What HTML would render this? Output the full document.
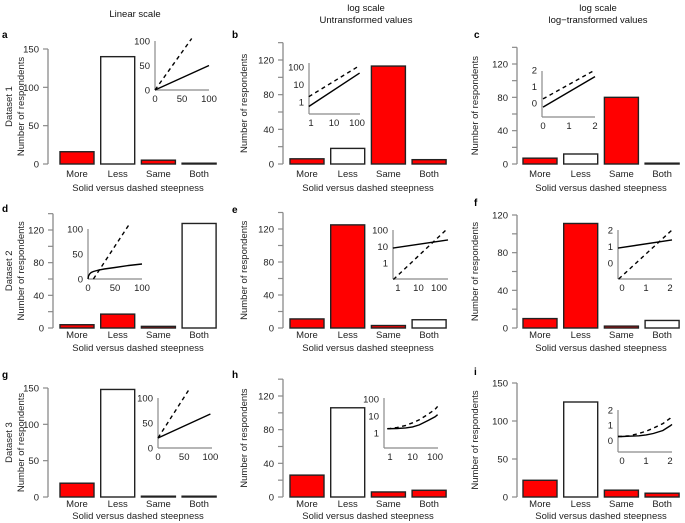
<!DOCTYPE html>
<html><head><meta charset="utf-8">
<style>
html,body{margin:0;padding:0;background:#fff;}
svg{display:block;font-family:"Liberation Sans",Arial,sans-serif;}
</style></head>
<body>
<svg id="fig" width="685" height="523" viewBox="0 0 685 523" xmlns="http://www.w3.org/2000/svg">
<g font-size="9.5" fill="#111" text-anchor="middle">
<text x="135" y="17">Linear scale</text>
<text x="366" y="11">log scale</text>
<text x="366" y="23">Untransformed values</text>
<text x="598" y="11">log scale</text>
<text x="598" y="23">log−transformed values</text>
</g>
</svg>
<script>
// ---- data ----
const categories = ["More","Less","Same","Both"];
const panelLetters = ["a","b","c","d","e","f","g","h","i"];
const valuesA = [16,140,5,0.5];
const valuesB = [6,18,113,5];
const valuesC = [7,12,80,1];
const valuesD = [4,17,2,128];
const valuesE = [11,125,3,10];
const valuesF = [10,111,2,8];
const valuesG = [19,148,1,1];
const valuesH = [26,106,6,8];
const valuesI = [22,125,9,5];
const fillsA = ["r","w","r","w"];
const fillsB = ["r","w","r","r"];
const fillsC = ["r","w","r","r"];
const fillsD = ["r","r","r","w"];
const fillsE = ["r","r","r","w"];
const fillsF = ["r","r","r","w"];
const fillsG = ["r","w","r","r"];
const fillsH = ["r","w","r","r"];
const fillsI = ["r","w","r","r"];
const ticksLinear150 = [0,50,100,150];
const ticks140 = [0,20,40,60,80,100,120,140];
const ticks120 = [0,20,40,60,80,100,120];
const tickLabels40 = [0,40,80,120];
// inset series
const insetSolidXA=[0,100], insetSolidYA=[0,50], insetDashXA=[0,68], insetDashYA=[0,105];
const insetSolidXB=[0.8,130], insetSolidYB=[0.55,45], insetDashXB=[0.8,130], insetDashYB=[2,120];
const insetSolidXC=[0,2], insetSolidYC=[-0.25,1.6], insetDashXC=[0,2], insetDashYC=[0.25,2.0];
const insetSolidXD=[0,1,3,6,10,20,30,50,75,100], insetSolidYD=[0,6,10,13,15,18,20,23,27,30], insetDashXD=[10,78], insetDashYD=[0,112];
const insetSolidXE=[0.57,275], insetSolidYE=[8,25], insetDashXE=[0.6,275], insetDashYE=[0.1,130];
const insetSolidXF=[-0.17,2.08], insetSolidYF=[0.9,1.4], insetDashXF=[-0.14,2.08], insetDashYF=[-0.97,2.0];
const insetSolidXG=[0,100], insetSolidYG=[20,68], insetDashXG=[0,58], insetDashYG=[20,115];
const insetSolidXH=[0.75,1,2,5,10,20,50,100,130], insetSolidYH=[1.8,1.8,1.85,2.0,2.3,3,5.5,9,12];
const insetDashXH=[0.75,1,2,5,10,20,50,100,130], insetDashYH=[1.8,1.85,2.1,2.8,4,6,13,25,37];
const insetSolidXI=[-0.17,0,0.3,0.7,1,1.3,1.7,2.0,2.08], insetSolidYI=[0.25,0.25,0.27,0.3,0.36,0.45,0.65,0.95,1.05];
const insetDashXI=[-0.17,0,0.3,0.7,1,1.3,1.7,2.0,2.08], insetDashYI=[0.25,0.26,0.3,0.45,0.6,0.8,1.1,1.45,1.6];
const insetTicksLin=[0,50,100], insetTicksLog=[1,10,100], insetTicksT=[0,1,2];

const NS="http://www.w3.org/2000/svg";
const svg=document.getElementById('fig');
function mk(tag,attrs,parent){const e=document.createElementNS(NS,tag);for(const k in attrs)e.setAttribute(k,attrs[k]);(parent||svg).appendChild(e);return e;}
function txt(s,attrs,parent){const e=mk('text',attrs,parent);e.textContent=s;return e;}

// layout
const panels=[
 {v:valuesA,f:fillsA,ax:48,y0:164,ref:150,refPx:49,top:150,ticks:ticksLinear150,labels:ticksLinear150,bx:60,row:0,col:0,lx:2,ly:38},
 {v:valuesB,f:fillsB,ax:283,y0:164,ref:120,refPx:60,top:140,ticks:ticks140,labels:tickLabels40,bx:290,row:0,col:1,lx:232,ly:38},
 {v:valuesC,f:fillsC,ax:517,y0:164,ref:120,refPx:64,top:140,ticks:ticks140,labels:tickLabels40,bx:523,row:0,col:2,lx:474,ly:38},
 {v:valuesD,f:fillsD,ax:53,y0:328,ref:120,refPx:230,top:140,ticks:ticks140,labels:tickLabels40,bx:60,row:1,col:0,lx:2,ly:212},
 {v:valuesE,f:fillsE,ax:283,y0:328,ref:120,refPx:229,top:140,ticks:ticks140,labels:tickLabels40,bx:290,row:1,col:1,lx:232,ly:213},
 {v:valuesF,f:fillsF,ax:517,y0:328,ref:120,refPx:215,top:120,ticks:ticks120,labels:tickLabels40,bx:523,row:1,col:2,lx:474,ly:206},
 {v:valuesG,f:fillsG,ax:48,y0:497,ref:150,refPx:388,top:150,ticks:ticksLinear150,labels:ticksLinear150,bx:60,row:2,col:0,lx:2,ly:378},
 {v:valuesH,f:fillsH,ax:283,y0:497,ref:120,refPx:396,top:140,ticks:ticks140,labels:tickLabels40,bx:290,row:2,col:1,lx:232,ly:378},
 {v:valuesI,f:fillsI,ax:517,y0:497,ref:150,refPx:383,top:150,ticks:ticksLinear150,labels:ticksLinear150,bx:523,row:2,col:2,lx:474,ly:375}
];
const insets=[
 {ox:155,oy:90,r:209,t:41,xmin:0,xmax:100,ymin:0,ymax:100,log:false,xt:insetTicksLin,yt:insetTicksLin,sx:insetSolidXA,sy:insetSolidYA,dx:insetDashXA,dy:insetDashYA},
 {ox:309,oy:114,r:360,t:63,xmin:-0.09,xmax:2.13,ymin:-0.69,ymax:2.23,log:true,xt:insetTicksLog,yt:insetTicksLog,sx:insetSolidXB,sy:insetSolidYB,dx:insetDashXB,dy:insetDashYB},
 {ox:542,oy:117,r:595,t:71,xmin:-0.04,xmax:2.0,ymin:-0.85,ymax:1.94,log:false,xt:insetTicksT,yt:insetTicksT,sx:insetSolidXC,sy:insetSolidYC,dx:insetDashXC,dy:insetDashYC},
 {ox:88,oy:279,r:142,t:229,xmin:0,xmax:100,ymin:0,ymax:100,log:false,xt:insetTicksLin,yt:insetTicksLin,sx:insetSolidXD,sy:insetSolidYD,dx:insetDashXD,dy:insetDashYD},
 {ox:393,oy:279,r:448,t:230,xmin:-0.24,xmax:2.44,ymin:-0.97,ymax:2.0,log:true,xt:insetTicksLog,yt:insetTicksLog,sx:insetSolidXE,sy:insetSolidYE,dx:insetDashXE,dy:insetDashYE},
 {ox:618,oy:279,r:672,t:230,xmin:-0.17,xmax:2.08,ymin:-0.97,ymax:2.0,log:false,xt:insetTicksT,yt:insetTicksT,sx:insetSolidXF,sy:insetSolidYF,dx:insetDashXF,dy:insetDashYF},
 {ox:158,oy:448,r:212,t:398,xmin:0,xmax:103,ymin:0,ymax:100,log:false,xt:insetTicksLin,yt:insetTicksLin,sx:insetSolidXG,sy:insetSolidYG,dx:insetDashXG,dy:insetDashYG},
 {ox:384,oy:448,r:438,t:398,xmin:-0.27,xmax:2.13,ymin:-0.88,ymax:2.06,log:true,xt:insetTicksLog,yt:insetTicksLog,sx:insetSolidXH,sy:insetSolidYH,dx:insetDashXH,dy:insetDashYH},
 {ox:618,oy:452,r:672,t:410,xmin:-0.17,xmax:2.08,ymin:-0.77,ymax:2.0,log:false,xt:insetTicksT,yt:insetTicksT,sx:insetSolidXI,sy:insetSolidYI,dx:insetDashXI,dy:insetDashYI}
];
const rowCatY=[177,338,507], rowTitleY=[191,351,519];
const colYTitleX=[24,247,478];
const colCenter=[138,368,601];

panels.forEach((p,i)=>{
  const g=mk('g',{});
  
  
  const ys=v=>p.y0-(v/p.ref)*(p.y0-p.refPx);
  // y axis
  const axis=mk('line',{x1:p.ax,x2:p.ax,y1:ys(0),y2:ys(p.top),stroke:'#8a8a8a','stroke-width':1.3},g);
  
  
  p.ticks.forEach(t=>{
    const tk=mk('line',{x1:p.ax-5,x2:p.ax,y1:ys(t),y2:ys(t),stroke:'#8a8a8a','stroke-width':1.2},g);
    
    
  });
  p.labels.forEach(t=>{
    const tl=txt(String(t),{x:p.ax-9,y:ys(t)+3.5,'font-size':9.5,'text-anchor':'end',fill:'#222'},g);
    
    
  });
  // bars
  const step=40.7,bw=34;
  p.v.forEach((v,k)=>{
    const x=p.bx+k*step, y=ys(v), h=Math.max(ys(0)-y,0.8);
    const b=mk('rect',{x:x,y:ys(0)-h,width:bw,height:h,fill:p.f[k]==='r'?'#ff0000':'#ffffff',stroke:'#222','stroke-width':1.4},g);
    
    
    const cl=txt(categories[k],{x:x+bw/2,y:rowCatY[p.row],'font-size':9.5,'text-anchor':'middle',fill:'#222'},g);
    
    
  });
  const xt=txt('Solid versus dashed steepness',{x:colCenter[p.col],y:rowTitleY[p.row],'font-size':9.5,'text-anchor':'middle',fill:'#222'},g);
  
  
  const cy=(ys(0)+ys(p.top))/2;
  const yt=txt('Number of respondents',{x:colYTitleX[p.col],y:cy,'font-size':9.5,'text-anchor':'middle',fill:'#222',transform:`rotate(-90 ${colYTitleX[p.col]} ${cy})`},g);
  
  
  if(p.col===0){
    const dt=txt('Dataset '+(p.row+1),{x:12,y:cy,'font-size':9.5,'text-anchor':'middle',fill:'#222',transform:`rotate(-90 12 ${cy})`},g);
    
    
  }
  const pl=txt(panelLetters[i],{x:p.lx,y:p.ly,'font-size':10,'font-weight':'bold',fill:'#000'},g);
  
  

  // inset
  const s=insets[i];
  const ig=mk('g',{},g);
  
  
  const tx=v=>s.ox+(v-s.xmin)/(s.xmax-s.xmin)*(s.r-s.ox);
  const ty=v=>s.oy-(v-s.ymin)/(s.ymax-s.ymin)*(s.oy-s.t);
  const cv=v=>s.log?Math.log10(v):v;
  const ya=mk('line',{x1:s.ox,x2:s.ox,y1:s.oy,y2:s.t,stroke:'#8a8a8a','stroke-width':1.2},ig);
  
  
  const xa=mk('line',{x1:s.ox,x2:s.r,y1:s.oy,y2:s.oy,stroke:'#8a8a8a','stroke-width':1.2},ig);
  
  
  s.xt.forEach(t=>{
    const l=txt(String(t),{x:tx(cv(t)),y:s.oy+12,'font-size':9.5,'text-anchor':'middle',fill:'#222'},ig);
    
    
  });
  s.yt.forEach(t=>{
    const l=txt(String(t),{x:s.ox-5,y:ty(cv(t))+3.5,'font-size':9.5,'text-anchor':'end',fill:'#222'},ig);
    
    
  });
  const pts=(xs,ysr)=>xs.map((x,k)=>tx(cv(x)).toFixed(1)+','+ty(cv(ysr[k])).toFixed(1)).join(' ');
  const sl=mk('polyline',{points:pts(s.sx,s.sy),fill:'none',stroke:'#000','stroke-width':1.4},ig);
  
  
  const dl=mk('polyline',{points:pts(s.dx,s.dy),fill:'none',stroke:'#000','stroke-width':1.4,'stroke-dasharray':'4,3.5'},ig);
  
  
});
</script>
</body></html>
